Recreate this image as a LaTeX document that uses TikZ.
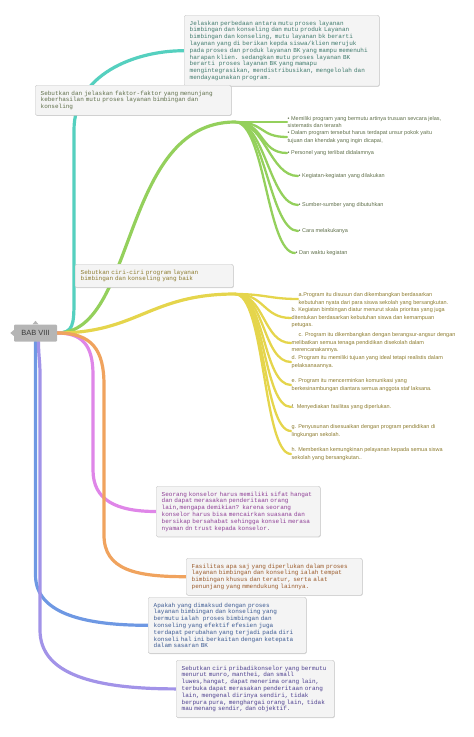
\documentclass[tikz,border=0pt]{standalone}
\usepackage{fontspec}
\setmainfont{Liberation Sans}
\setmonofont{Liberation Mono}
\usetikzlibrary{backgrounds,shadows}
\definecolor{TealClr}{HTML}{55D0BF}
\definecolor{GreenClr}{HTML}{94D05C}
\definecolor{YellowClr}{HTML}{E5D54C}
\definecolor{PinkClr}{HTML}{DF86E8}
\definecolor{OrangeClr}{HTML}{F0A35E}
\definecolor{BlueClr}{HTML}{6E98E3}
\definecolor{PurpleClr}{HTML}{A293E8}
\definecolor{TealTxt}{HTML}{3F7A6C}
\definecolor{GreenTxt}{HTML}{5F6F4A}
\definecolor{YellowTxt}{HTML}{8C7B2E}
\definecolor{PinkTxt}{HTML}{8E3F96}
\definecolor{OrangeTxt}{HTML}{9A5A2A}
\definecolor{BlueTxt}{HTML}{3C5A92}
\definecolor{PurpleTxt}{HTML}{4D3F8E}
\definecolor{NoteFill}{HTML}{F4F4F4}
\definecolor{NoteLine}{HTML}{C8C8C8}
\definecolor{BabFill}{HTML}{B5B5B5}
\definecolor{BabTxt}{HTML}{3A3A3A}
\newcommand\NoteFont{\ttfamily\fontsize{6}{6.8}\selectfont}
\newcommand\LeafFont{\fontsize{5.5}{7.5}\selectfont}

\begin{document}
\begin{tikzpicture}[x=1pt,y=-1pt,
  note/.style={draw=NoteLine,fill=NoteFill,rounded corners=1.5pt,inner xsep=5.5pt,inner ysep=5.5pt,
    align=left,anchor=north west,font=\NoteFont,execute at begin node={\hyphenpenalty=10000},
    drop shadow={shadow xshift=0.6pt,shadow yshift=-0.6pt,fill=black,opacity=0.15}},
  leaf/.style={anchor=west,align=left,inner sep=0.5pt,font=\LeafFont},
  bab/.style={fill=BabFill,text=BabTxt,rounded corners=1pt,minimum width=43pt,minimum height=17pt,
    inner sep=2pt,font=\fontsize{7.5}{9}\selectfont},
  branch/.style={line width=3.2pt,line cap=round},
  twig/.style={line width=2.3pt,line cap=round}]
\useasboundingbox (0,0) rectangle (474,737);

\node[bab] (bab) at (35.5,333) {BAB VIII};
\fill[BabFill] ([xshift=-3pt]bab.north) -- ([yshift=3.5pt]bab.north) -- ([xshift=3pt]bab.north) -- cycle;
\fill[BabFill] ([yshift=3pt]bab.west) -- ([xshift=-3.5pt]bab.west) -- ([yshift=-3pt]bab.west) -- cycle;

\node[note,text width=184pt,text=TealTxt] (beda) at (184,15) {Jelaskan perbedaan antara mutu proses layanan\\
bimbingan dan konseling dan mutu produk Layanan\\
bimbingan dan konseling, mutu layanan bk berarti\\
layanan yang di berikan kepda siswa/klien merujuk\\
pada proses dan produk layanan BK yang mampu memenuhi\\
harapan klien. sedangkan mutu proses layanan BK\\
berarti~ proses layanan BK yang mamapu\\
mengintegrasikan, mendistribusikan, mengelolah dan\\
mendayagunakan program.};

\node[note,text width=185pt,text=GreenTxt] (faktor) at (35,85) {Sebutkan dan jelaskan faktor-faktor yang menunjang\\
keberhasilan mutu proses layanan bimbingan dan\\
konseling};

\node[note,text width=147pt,text=YellowTxt] (ciri) at (75,264) {Sebutkan ciri-ciri program layanan\\
bimbingan dan konseling yang baik};

\node[note,text width=153pt,text=PinkTxt] (hangat) at (156,486) {Seorang konselor harus memiliki sifat hangat\\
dan dapat merasakan penderitaan orang\\
lain,mengapa demikian? karena seorang\\
konselor harus bisa mencairkan suasana dan\\
bersikap bersahabat sehingga konseli merasa\\
nyaman dn trust kepada konselor.};

\node[note,text width=165pt,text=OrangeTxt] (fasilitas) at (186,558) {Fasilitas apa saj yang diperlukan dalam proses\\
layanan bimbingan dan konseling ialah tempat\\
bimbingan khusus dan teratur, serta alat\\
penunjang yang mmendukung lainnya.};

\node[note,text width=147pt,text=BlueTxt] (bermutu) at (148,597) {Apakah yang dimaksud dengan proses\\
layanan bimbingan dan konseling yang\\
bermutu ialah~ proses bimbingan dan\\
konseling yang efektif efesien juga\\
terdapat perubahan yang terjadi pada diri\\
konseli hal ini berkaitan dengan ketepata\\
dalam sasaran BK};

\node[note,text width=147pt,text=PurpleTxt] (pribadi) at (176,660) {Sebutkan ciri pribadikonselor yang bermutu\\
menurut munro, manthei, dan small\\
luwes,hangat, dapat menerima orang lain,\\
terbuka dapat merasakan penderitaan orang\\
lain, mengenal dirinya sendiri, tidak\\
berpura pura, menghargai orang lain, tidak\\
mau menang sendir, dan objektif.};

\coordinate (ghub) at (235,122);
\coordinate (yhub) at (235,294);

\node[leaf,text=GreenTxt] (g1) at (287,122) {• Memiliki program yang bermutu artinya trusuan sevcara jelas,\\sistematis dan terarah};
\node[leaf,text=GreenTxt] (g2) at (287,137) {• Dalam program tersebut harus terdapat unsur pokok yaitu\\tujuan dan khendak yang ingin dicapai,};
\node[leaf,text=GreenTxt] (g3) at (287,153) {• Personel yang terlibat didalamnya};
\node[leaf,text=GreenTxt] (g4) at (298,176) {• Kegiatan-kegiatan yang dilakukan};
\node[leaf,text=GreenTxt] (g5) at (298,205) {• Sumber-sumber yang dibutuhkan};
\node[leaf,text=GreenTxt] (g6) at (298,231) {• Cara melakukanya};
\node[leaf,text=GreenTxt] (g7) at (295,253) {• Dan waktu kegiatan};

\node[leaf,text=YellowTxt] (ya) at (298,299) {a.Program itu disusun dan dikembangkan berdasarkan\\kebutuhan nyata dari para siswa sekolah yang bersangkutan.};
\node[leaf,text=YellowTxt] (yb) at (291,318) {b. Kegiatan bimbingan diatur menurut skala prioritas yang juga\\ditentukan berdasarkan kebutuhan siswa dan kemampuan\\petugas.};
\node[leaf,text=YellowTxt] (yc) at (291,343) {\hspace*{7pt}c. Program itu dikembangkan dengan berangsur-angsur dengan\\melibatkan semua tenaga pendidikan disekolah dalam\\merencanakannya.};
\node[leaf,text=YellowTxt] (yd) at (291,362) {d. Program itu memiliki tujuan yang ideal tetapi realistis dalam\\pelaksanaannya.};
\node[leaf,text=YellowTxt] (ye) at (291,385) {e. Program itu mencerminkan komunikasi yang\\berkesinambungan diantara semua anggota staf laksana.};
\node[leaf,text=YellowTxt] (yf) at (291,407) {f. Menyediakan fasilitas yang diperlukan.};
\node[leaf,text=YellowTxt] (yg) at (291,431) {g. Penyusunan disesuaikan dengan program pendidikan di\\lingkungan sekolah.};
\node[leaf,text=YellowTxt] (yh) at (291,454) {h. Memberikan kemungkinan pelayanan kepada semua siswa\\sekolah yang bersangkutan..};

\begin{pgfonlayer}{background}
\draw[branch,TealClr] (bab.east) .. controls +(16,0) and +(0,25) .. (74,300) -- (74,130)
  .. controls +(0,-55) and +(-50,0) .. (beda.west);
\draw[branch,GreenClr] (bab.east) .. controls +(80,0) and +(-115,0) .. (ghub);
\draw[branch,YellowClr] (bab.east) .. controls +(80,0) and +(-85,0) .. (yhub);
\draw[branch,PinkClr] (bab.east) .. controls +(25,0) and +(0,-30) .. (93,375) -- (93,470)
  .. controls +(0,30) and +(-40,0) .. (hangat.west);
\draw[branch,OrangeClr] (bab.east) .. controls +(35,0) and +(0,-35) .. (104,385) -- (104,535)
  .. controls +(0,35) and +(-50,0) .. (fasilitas.west);
\draw[branch,BlueClr] (bab.south) -- (35.5,575) .. controls +(0,40) and +(-60,0) .. (bermutu.west);
\draw[branch,PurpleClr] ([xshift=3pt]bab.south) .. controls +(0,15) and +(0,-15) .. (40,375) -- (40,630)
  .. controls +(0,45) and +(-80,0) .. (pribadi.west);
\foreach \leaf in {g1,g2,g3,g4,g5,g6,g7}
  \draw[twig,GreenClr] (ghub) .. controls +(30,0) and +(-28,0) .. (\leaf.west);
\foreach \leaf in {ya,yb,yc,yd,ye,yf,yg,yh}
  \draw[twig,YellowClr] (yhub) .. controls +(30,0) and +(-28,0) .. (\leaf.west);
\end{pgfonlayer}
\end{tikzpicture}
\end{document}
